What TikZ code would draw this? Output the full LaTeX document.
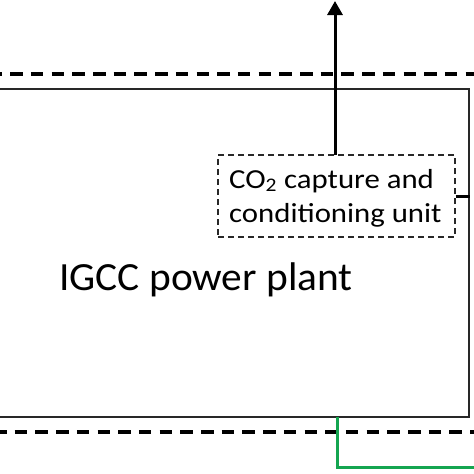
\documentclass[tikz,border=0pt]{standalone}
\usepackage{fontspec}
\setmainfont{Carlito}
\newfontfamily\unitfont[FakeStretch=1.12]{Carlito}
\newfontfamily\plantfont[FakeStretch=1.035]{Carlito}
\usetikzlibrary{arrows.meta}
\definecolor{boxgray}{RGB}{40,40,40}
\definecolor{flowgreen}{RGB}{20,165,80}
\tikzset{
  boundary/.style={line width=3.6pt, dash pattern=on 12.5pt off 8.2pt},
  plantbox/.style={draw=boxgray, line width=1.5pt, rectangle, inner sep=0pt},
  unitbox/.style={draw=boxgray, line width=1.2pt, dash pattern=on 6pt off 4pt, rectangle, inner sep=0pt},
  flow/.style={line width=3pt},
  txt/.style={inner sep=0pt, anchor=base west, font=\unitfont\fontsize{27.5}{34}\selectfont},
}
\begin{document}
\begin{tikzpicture}[x=1pt,y=-1pt]
\useasboundingbox (0,0) rectangle (474,474);
% plant box
\node[plantbox, minimum width=479pt, minimum height=328pt] (plant) at (229.5,253) {};
\node[inner sep=0pt, anchor=base, font=\plantfont\fontsize{40}{48}\selectfont] (plabel) at (206,290) {IGCC power plant};
% boundaries
\coordinate (bl1) at (-10.5,74);
\coordinate (br1) at (480,74);
\coordinate (bl2) at (-6,432);
\coordinate (br2) at (480,432);
\draw[boundary] (bl1) -- (br1);
\draw[boundary] (bl2) -- (br2);
% unit box
\node[unitbox, minimum width=237pt, minimum height=82pt] (unit) at (336.5,196) {};
\node[txt] (u1) at (229,188) {CO\textsubscript{2} capture and};
\node[txt] (u2) at (229,222) {conditioning unit};
% arrow out
\coordinate (top) at (335,1);
\coordinate (ubase) at (335,155);
\draw[flow, -{Triangle[length=14pt, width=15pt]}] (ubase) -- (top);
\draw[flow] (unit.east) -- (unit.east -| plant.east);
% green line
\coordinate (gtop) at (337,417);
\coordinate (gend) at (480,467);
\draw[flowgreen, line width=3pt] (gtop) |- (gend);
\end{tikzpicture}
\end{document}
